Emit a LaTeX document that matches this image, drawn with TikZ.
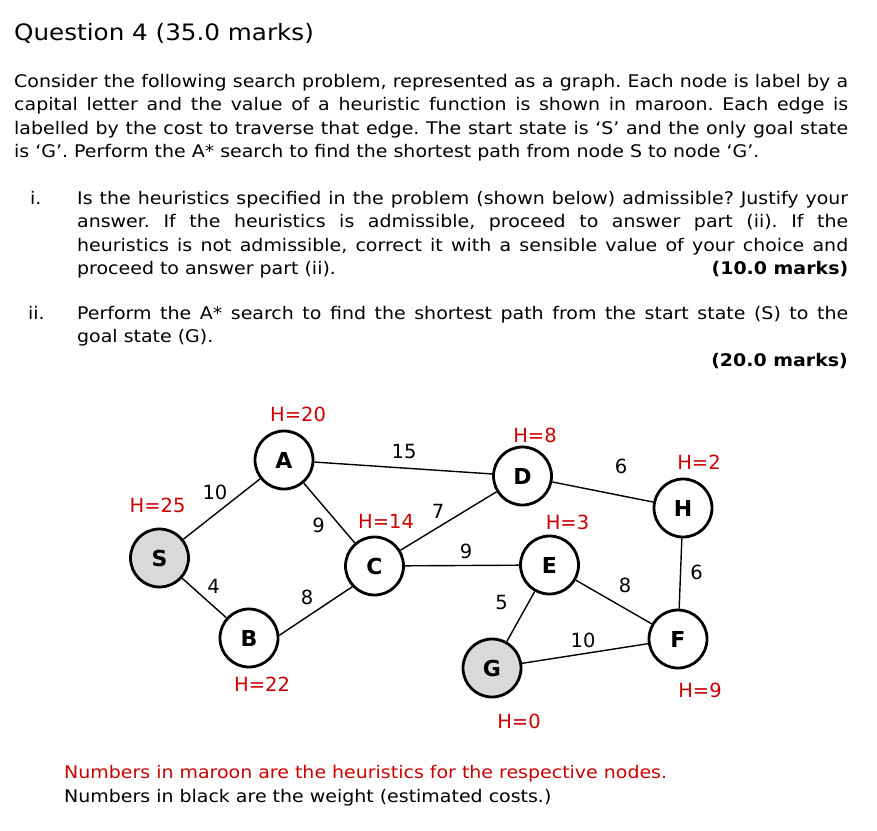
\documentclass[tikz,border=0pt]{standalone}
\usepackage{fontspec}
\setmainfont{DejaVu Sans}[FakeStretch=1.09]
\newfontfamily\gfont{DejaVu Sans}
\definecolor{hred}{RGB}{204,0,0}
\definecolor{gfill}{RGB}{217,217,217}
\newcommand\bodyfont{\fontsize{17.4}{23.5}\selectfont}
\newcommand\jlineA[1]{\makebox[834pt][s]{#1}}
\newcommand\jlineB[1]{\makebox[771pt][s]{#1}}
\frenchspacing
\begin{document}
\begin{tikzpicture}[x=1pt,y=-1pt,
  txt/.style={anchor=base west,inner sep=0pt,font=\bodyfont},
  gnode/.style={circle,draw,line width=2.8pt,minimum size=58pt,inner sep=0pt,font=\gfont\fontsize{22}{22}\selectfont\bfseries},
  startnode/.style={gnode,fill=gfill},
  edge/.style={line width=1.4pt},
  wlab/.style={inner sep=0pt,font=\gfont\fontsize{19.5}{19.5}\selectfont},
  hlab/.style={inner sep=0pt,text=hred,font=\gfont\fontsize{19.5}{19.5}\selectfont}]
\useasboundingbox[fill=white] (0,0) rectangle (877,830);

\node[anchor=base west,inner sep=0pt,font=\fontsize{22.6}{28}\selectfont] (title) at (14,40) {Question 4 (35.0 marks)};

\node[txt] (p1) at (14,87) {\jlineA{Consider the following search problem, represented as a graph. Each node is label by a}};
\node[txt] (p2) at (14,110.5) {\jlineA{capital letter and the value of a heuristic function is shown in maroon. Each edge is}};
\node[txt] (p3) at (14,134) {\jlineA{labelled by the cost to traverse that edge. The start state is ‘S’ and the only goal state}};
\node[txt] (p4) at (14,157.5) {is ‘G’. Perform the A* search to find the shortest path from node S to node ‘G’.};

\node[txt] (ilab) at (30,204) {i.};
\node[txt] (i1) at (77,204) {\jlineB{Is the heuristics specified in the problem (shown below) admissible? Justify your}};
\node[txt] (i2) at (77,227.5) {\jlineB{answer. If the heuristics is admissible, proceed to answer part (ii). If the}};
\node[txt] (i3) at (77,251) {\jlineB{heuristics is not admissible, correct it with a sensible value of your choice and}};
\node[txt] (i4) at (77,274.5) {\makebox[771pt]{proceed to answer part (ii).\hfill\textbf{(10.0 marks)}}};

\node[txt] (iilab) at (28,319) {ii.};
\node[txt] (ii1) at (77,319) {\jlineB{Perform the A* search to find the shortest path from the start state (S) to the}};
\node[txt] (ii2) at (77,342.5) {goal state (G).};
\node[anchor=base east,inner sep=0pt,font=\bodyfont\bfseries] (ii3) at (848,366) {(20.0 marks)};

% graph nodes
\node[gnode] (A) at (284,460) {A};
\node[startnode] (S) at (159.5,558) {S};
\node[gnode] (C) at (374.5,566) {C};
\node[gnode] (D) at (522.5,476) {D};
\node[gnode] (H) at (683,508) {H};
\node[gnode] (E) at (549.5,565) {E};
\node[gnode] (B) at (249,638) {B};
\node[startnode] (G) at (492,668) {G};
\node[gnode] (F) at (678,639) {F};

% edges
\draw[edge] (S) -- (A);
\draw[edge] (S) -- (B);
\draw[edge] (A) -- (D);
\draw[edge] (A) -- (C);
\draw[edge] (B.5) -- (C.223);
\draw[edge] (C) -- (D);
\draw[edge] (C) -- (E);
\draw[edge] (D) -- (H);
\draw[edge] (E) -- (F);
\draw[edge] (E) -- (G);
\draw[edge] (G) -- (F);
\draw[edge] (H) -- (F);

% weights
\node[wlab] (wSA) at (215,492.5) {10};
\node[wlab] (wSB) at (213.5,586.5) {4};
\node[wlab] (wAD) at (404,451.5) {15};
\node[wlab] (wAC) at (318.5,525) {9};
\node[wlab] (wBC) at (307,597) {8};
\node[wlab] (wCD) at (438,511.5) {7};
\node[wlab] (wCE) at (466,551) {9};
\node[wlab] (wDH) at (621,466.5) {6};
\node[wlab] (wEF) at (625,585) {8};
\node[wlab] (wEG) at (501.5,603) {5};
\node[wlab] (wGF) at (583,640) {10};
\node[wlab] (wHF) at (696.5,572.5) {6};

% heuristics
\node[hlab] (hA) at (298,414.5) {H=20};
\node[hlab] (hS) at (157.5,505.5) {H=25};
\node[hlab] (hC) at (386,521.5) {H=14};
\node[hlab] (hD) at (535,435) {H=8};
\node[hlab] (hH) at (699,462) {H=2};
\node[hlab] (hE) at (567.5,522.5) {H=3};
\node[hlab] (hB) at (262,684) {H=22};
\node[hlab] (hG) at (519,721) {H=0};
\node[hlab] (hF) at (700,690.5) {H=9};

% footer
\node[txt,text=hred] (n1) at (64,778.5) {Numbers in maroon are the heuristics for the respective nodes.};
\node[txt] (n2) at (64,802) {Numbers in black are the weight (estimated costs.)};
\end{tikzpicture}
\end{document}
